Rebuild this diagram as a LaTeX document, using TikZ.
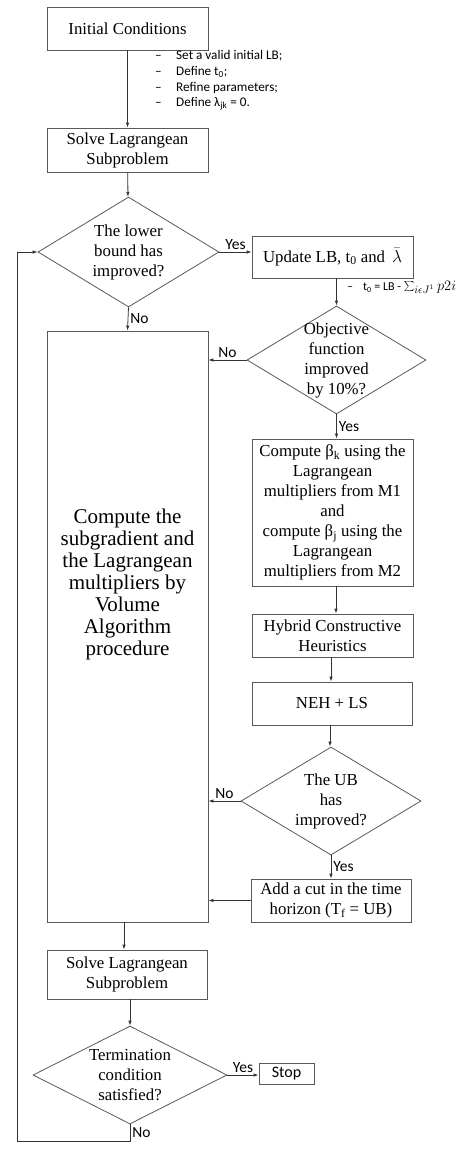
\documentclass[tikz,border=0pt]{standalone}
\usepackage{fontspec}
\setmainfont{Liberation Serif}
\newfontfamily\calfont{Carlito}
\usetikzlibrary{shapes.geometric,arrows.meta}

\tikzset{
  box/.style={draw=black!65, line width=0.8pt, inner sep=0pt, minimum width=161pt, minimum height=43pt,
    align=center, font=\fontsize{16.8}{20}\selectfont},
  dia/.style={draw=black!65, line width=0.8pt, diamond, inner sep=0pt},
  diatxt/.style={align=center, inner sep=0pt, font=\fontsize{16.8}{20}\selectfont},
  arr/.style={draw=black!80, line width=0.8pt, -{Latex[length=5pt,width=3.5pt]}},
  yn/.style={font=\calfont\fontsize{15.5}{17}\selectfont, inner sep=2pt},
  note/.style={font=\calfont\fontsize{13.2}{15.7}\selectfont, align=left, inner sep=0pt, anchor=west}
}

\begin{document}
\begin{tikzpicture}[x=1pt,y=1pt,yscale=-1]
        \useasboundingbox (0,0) rectangle (474,1163);

        % Boxes
        \node [box] (init) at (127.5,28.5) {Initial Conditions};
        \node [box, minimum height=44pt] (solve1) at (127.5,150) {Solve Lagrangean\\Subproblem};
        \node [box, minimum height=42pt] (upd) at (332.5,257) {Update LB, t\textsubscript{0} and\, $\bar{\lambda}$};
        \node [box, minimum height=147pt] (betas) at (332.5,512.5) {Compute β\textsubscript{k} using the\\Lagrangean\\multipliers from M1\\and\\compute β\textsubscript{j} using the\\Lagrangean\\multipliers from M2};
        \node [box] (hybrid) at (332.5,635.5) {Hybrid Constructive\\Heuristics};
        \node [box, minimum width=160pt] (neh) at (332,703.5) {NEH + LS};
        \node [box, minimum width=160pt] (cut) at (331,900.5) {Add a cut in the time\\horizon (T\textsubscript{f} = UB)};
        \node [box, minimum height=591pt,
               label={[diatxt, font=\fontsize{21}{22}\selectfont, yshift=42pt]center:Compute the\\subgradient and\\the Lagrangean\\multipliers by\\Volume\\Algorithm\\procedure}]
               (volume) at (127.5,626.5) {};
        \node [box, minimum width=160pt, minimum height=49pt] (solve2) at (127,974.5) {Solve Lagrangean\\Subproblem};
        \node [box, minimum width=55pt, minimum height=21pt, font=\calfont\fontsize{16}{17}\selectfont] (stop) at (286.5,1073.5) {Stop};

        % Decisions
        \node [dia, minimum width=181pt, minimum height=110pt,
               label={[diatxt]center:The lower\\bound has\\improved?}] (lbimp) at (128.5,252) {};
        \node [dia, minimum width=179pt, minimum height=108pt,
               label={[diatxt]center:Objective\\function\\improved\\by 10\%?}] (objimp) at (336.5,360) {};
        \node [dia, minimum width=180pt, minimum height=108pt,
               label={[diatxt]center:The UB\\has\\improved?}] (ubimp) at (331,801) {};
        \node [dia, minimum width=194pt, minimum height=98pt,
               label={[diatxt]center:Termination\\condition\\satisfied?}] (term) at (130,1075) {};

        % Notes
        \node [note] (initnote) at (155,80.5) {\makebox[21pt][l]{–}Set a valid initial LB;\\
          \makebox[21pt][l]{–}Define t\textsubscript{0};\\
          \makebox[21pt][l]{–}Refine parameters;\\
          \makebox[21pt][l]{–}Define λ\textsubscript{jk} = 0.};
        \node [note, font=\calfont\fontsize{12}{14}\selectfont] (t0note) at (347,287)
          {\makebox[16pt][l]{–}t\textsubscript{0} = LB - {\fontsize{15}{16}\selectfont$\sum_{i\epsilon J^1} p2i$}};

        % Connectors
        \coordinate (back) at (17,1141);
        \draw [arr] (init) -- (solve1);
        \draw [arr] (solve1) -- (lbimp);
        \draw [arr] (lbimp.east) -- (lbimp.east -| upd.west) node [yn, midway, above] {Yes};
        \draw [arr] (lbimp.south) -- (volume.north) node [yn, midway, right] {No};
        \draw [arr] (objimp.north |- upd.south) -- (objimp.north);
        \draw [arr] (objimp.west) -- (objimp.west -| volume.east) node [yn, midway, above] {No};
        \draw [arr] (objimp.south) -- (objimp.south |- betas.north) node [yn, midway, right] {Yes};
        \draw [arr] (hybrid.north -| 336,0) ++(0,-28) -- (hybrid.north -| 336,0);
        \draw [arr] (hybrid.south -| neh.north) ++(-1,0) -- ([xshift=-1pt]neh.north);
        \draw [arr] (neh.south -| 330,0) -- (ubimp.north -| 330,0);
        \draw [arr] (ubimp.west) -- (ubimp.west -| volume.east) node [yn, midway, above] {No};
        \draw [arr] (ubimp.south) -- (ubimp.south |- cut.north) node [yn, midway, right] {Yes};
        \draw [arr] (cut.west) -- (cut.west -| volume.east);
        \draw [arr] (volume.south -| 124,0) -- (solve2.north -| 124,0);
        \draw [arr] (solve2.south -| term.north) -- (term.north);
        \draw [arr] (term.east) -- (stop.west |- term.east) node [yn, midway, above] {Yes};
        \draw [arr] (term.south) -- (term.south |- back) node [yn, midway, right] {No}
          -- (back) |- (lbimp.west);

\end{tikzpicture}
\end{document}
